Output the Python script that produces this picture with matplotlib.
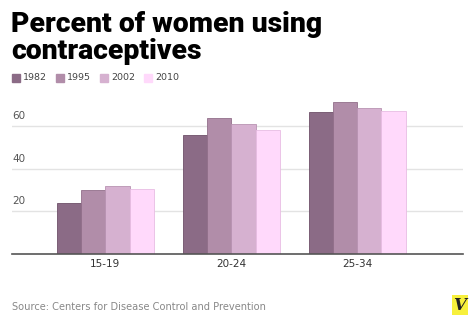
import numpy as np
import matplotlib
matplotlib.use("Agg")
import matplotlib.pyplot as plt
from matplotlib.patches import Rectangle

# Data
groups = ["15-19", "20-24", "25-34"]
years = ["1982", "1995", "2002", "2010"]
v1982 = [24, 55.8, 66.7]
v1995 = [30, 63.6, 71.1]
v2002 = [31.6, 60.8, 68.6]
v2010 = [30.5, 58.1, 67.1]
colors = ["#8b6b86", "#b18da9", "#d6b1d0", "#ffd9fb"]
edges = ["#6e5069", "#92708b", "#b893b2", "#e8bde3"]

fig = plt.figure(figsize=(4.74, 3.23), dpi=100)
W, H = 474, 323

# axes in pixel coords: x 12..463, y 253.5 (zero) up to ~ y 90
ax = fig.add_axes([12 / W, 1 - 253.5 / H, (463 - 12) / W, (253.5 - 90) / H])
ymax = (253.5 - 90) / 2.125
ax.set_ylim(0, ymax)
ax.set_xlim(-0.74, 2.84)

x = np.arange(len(groups))
bw = 0.193
series = [v1982, v1995, v2002, v2010]
for i, vals in enumerate(series):
    ax.bar(x + (i - 1.5) * bw, vals, bw, color=colors[i], edgecolor=edges[i],
           linewidth=0.6, zorder=3)

for yv in [20, 40, 60]:
    ax.axhline(yv, color="#e3e3e3", linewidth=1, zorder=1)
    ax.text(0.0, yv + 2.2, str(yv), transform=ax.get_yaxis_transform(),
            fontsize=7.5, color="#555555", ha="left", va="bottom")

for s in ["top", "right", "left"]:
    ax.spines[s].set_visible(False)
ax.spines["bottom"].set_color("#555555")
ax.spines["bottom"].set_linewidth(1.2)
ax.spines["bottom"].set_zorder(4)
ax.set_yticks([])
ax.set_xticks(x)
ax.set_xticklabels(groups, fontsize=7.5, color="#333333")
ax.tick_params(axis="x", length=0, pad=4)

# Title
title_font = dict(fontsize=20.4, fontweight="black", family=["Roboto", "DejaVu Sans"],
                  va="baseline")
fig.text(11 / W, 1 - 32 / H, "Percent of women using", **title_font)
fig.text(11 / W, 1 - 59 / H, "contraceptives", **title_font)

# Legend
lx = 12
for i, yr in enumerate(years):
    fig.patches.append(Rectangle(((lx) / W, 1 - 82 / H), 8 / W, 8 / H,
                                 transform=fig.transFigure, color=colors[i]))
    fig.text((lx + 11) / W, 1 - 78 / H, yr, fontsize=6.8, color="#444444",
             va="center")
    lx += 44

# Source
fig.text(12 / W, 1 - 307 / H, "Source: Centers for Disease Control and Prevention",
         fontsize=7.1, color="#888888", va="center")
fig.text(460 / W, 1 - 305 / H, "V", fontsize=12, fontweight="bold",
         style="italic", family="DejaVu Serif", color="#222222",
         ha="center", va="center",
         bbox=dict(boxstyle="square,pad=0.1", fc="#f7f03c", ec="none"))

fig.savefig("out.png", dpi=100)
